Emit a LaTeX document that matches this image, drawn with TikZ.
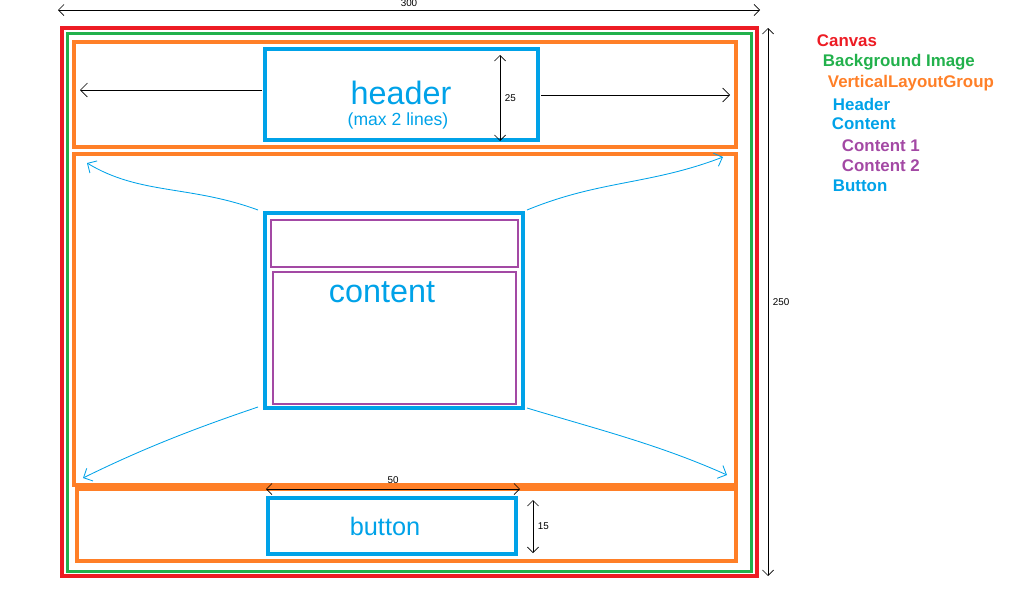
\documentclass[tikz,border=0pt]{standalone}
\usepackage{fontspec}
\setmainfont{Liberation Sans}
\usetikzlibrary{arrows.meta,arrows}

\definecolor{canvasred}{HTML}{ED1C24}
\definecolor{bggreen}{HTML}{22B14C}
\definecolor{vlgorange}{HTML}{FF7F27}
\definecolor{itemblue}{HTML}{00A2E8}
\definecolor{itempurple}{HTML}{A349A4}

\begin{document}
\begin{tikzpicture}
[x=0.25mm,y=-0.25mm,
canvasbox/.style ={draw=canvasred, line width=1mm},
bgbox/.style     ={draw=bggreen, line width=0.75mm},
groupbox/.style  ={draw=vlgorange, line width=1mm},
itembox/.style   ={draw=itemblue, line width=1.1mm},
subbox/.style    ={draw=itempurple, line width=0.5mm},
dim/.style       ={draw, thin, {Straight Barb[length=4pt]}-{Straight Barb[length=4pt]}},
line/.style      ={draw, thin, -{Straight Barb[length=5pt]}},
wave/.style      ={draw=itemblue, semithick, -{Straight Barb[length=5pt]}},
dimlabel/.style  ={font=\fontsize{7}{8}\selectfont},
legend/.style    ={anchor=west, font=\bfseries\fontsize{12}{14}\selectfont}]
\useasboundingbox (0,0) rectangle (1024,607);

% frames
\draw [canvasbox] (62,28) rectangle (757,576);
\draw [bgbox] (67,33) rectangle (751,571);
\draw [groupbox] (74,42) rectangle (736,147);
\draw [groupbox] (74,154) rectangle (736,485);
\draw [groupbox] (77,489) rectangle (736,561);

% header
\draw [itembox] (265,49) rectangle (538,140);
\node [itemblue, inner sep=0pt, font=\fontsize{23}{26}\selectfont] (header) at (401,93) {header};
\node [itemblue, inner sep=0pt, font=\fontsize{12.5}{14}\selectfont] (maxlines) at (398,121) {(max 2 lines)};
\coordinate (hleft) at (262,90);
\coordinate (hleftend) at (80,90);
\coordinate (hright) at (541,95);
\coordinate (hrightend) at (730,95);
\path [line] (hleft) -- (hleftend);
\path [line] (hright) -- (hrightend);
\coordinate (htop) at (500,55);
\coordinate (hbot) at (500,141);
\path [dim] (htop) -- node [right, dimlabel] {25} (hbot);

% content
\draw [itembox] (265,213) rectangle (523,408);
\draw [subbox] (271,220) rectangle (518,267);
\draw [subbox] (273,272) rectangle (516,404);
\node [itemblue, font=\fontsize{23}{26}\selectfont] (content) at (382,292) {content};
\coordinate (ctl) at (258,210);
\coordinate (ctr) at (527,210);
\coordinate (cbl) at (258,407);
\coordinate (cbr) at (527,408);
\coordinate (gtl) at (87,163);
\coordinate (gtr) at (723,157);
\coordinate (gbl) at (83,478);
\coordinate (gbr) at (727,475);
\path [wave] (ctl) .. controls (190,185) and (140,195) .. (gtl);
\path [wave] (ctr) .. controls (600,180) and (650,185) .. (gtr);
\path [wave] (cbl) .. controls (190,430) and (140,450) .. (gbl);
\path [wave] (cbr) .. controls (600,430) and (660,445) .. (gbr);

% button
\draw [itembox] (268,498) rectangle (516,554);
\node [itemblue, font=\fontsize{18}{20}\selectfont] (button) at (385,526) {button};
\coordinate (bwl) at (266,489);
\coordinate (bwr) at (520,489);
\path [dim] (bwl) -- node [above, dimlabel] {50} (bwr);
\coordinate (bht) at (533,500);
\coordinate (bhb) at (533,553);
\path [dim] (bht) -- node [right, dimlabel] {15} (bhb);

% outer dimensions
\coordinate (wl) at (58,10);
\coordinate (wr) at (760,10);
\path [dim] (wl) -- node [above=-1pt, dimlabel] {300} (wr);
\coordinate (ht) at (768,28);
\coordinate (hb) at (768,576);
\path [dim] (ht) -- node [right, dimlabel] {250} (hb);

% legend
\node [legend, canvasred] (lcanvas) at (812,41) {Canvas};
\node [legend, bggreen] (lbg) at (818,62) {Background Image};
\node [legend, vlgorange] (lvlg) at (823,83) {VerticalLayoutGroup};
\node [legend, itemblue] (lheader) at (828,104) {Header};
\node [legend, itemblue] (lcontent) at (827,124) {Content};
\node [legend, itempurple] (lcontent1) at (837,146) {Content 1};
\node [legend, itempurple] (lcontent2) at (837,166) {Content 2};
\node [legend, itemblue] (lbutton) at (828,186) {Button};
\end{tikzpicture}
\end{document}
